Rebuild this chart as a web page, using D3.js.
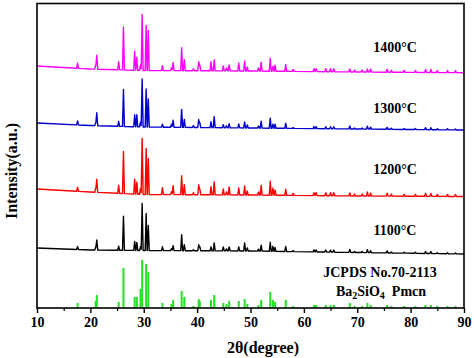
<!DOCTYPE html>
<html><head><meta charset="utf-8">
<script src="https://cdn.jsdelivr.net/npm/d3@7/dist/d3.min.js"></script>
<style>body{margin:0;background:#fff}svg text{font-family:"Liberation Serif","Times New Roman",serif;font-weight:bold}</style>
</head><body><svg id="c" width="474" height="358"></svg>
<script>
// Peak positions (2θ, degree)
const twoTheta = [17.6,21.0,21.2,25.3,26.2,28.3,28.7,29.4,29.7,30.45,30.85,33.5,35.2,35.5,37.1,37.6,39.3,40.3,40.5,42.6,43.2,44.9,45.5,46.0,47.8,48.9,49.4,51.5,52.0,53.7,54.2,54.6,56.6,58.0,61.9,62.3,64.1,65.0,65.6,68.6,69.5,70.9,71.9,72.5,75.6,76.4,78.8,80.9,82.8,83.8,85.0,86.9,88.4];
// JCPDS No.70-2113 reference stick intensities
const jcpds = [5,7,13,6,40,11,11,19,48,44,36,5,4,8,17,11,2,9,7,8,13,5,4,7,7,9,4,3,8,16,8,6,8,2,3,3,3,3,3,5,2,2,5,3,3,2,2,2,3,3,2,2,2];
// Peak heights of measured patterns (a.u.)
const h1100 = [3,3,10,4,34,9,8,4,47,37,25,4,2,5,16,6,1,6,4,4,8,4,2,4,4,8,3,2,6,9,5,4,5,1,2,2,2,2,2,3,1,1,3,2,2,1,1,1,2,2,1,1,1];
const h1200 = [4,4,13,8,42,15,12,6,56,46,36,7,3,9,19,10,2,10,6,8,13,6,3,8,7,9,4,3,10,14,7,5,6,2,3,3,3,3,3,3,2,2,4,3,3,2,2,2,3,3,2,2,2];
const h1300 = [4,3,13,5,37,12,12,5,48,38,28,3,3,7,18,8,2,8,5,6,11,3,2,4,4,6,3,2,7,10,4,4,5,1,2,2,2,2,2,3,1,1,3,2,2,1,1,1,2,2,1,1,1];
const h1400 = [5,4,14,8,43,19,13,6,56,45,40,5,3,8,23,11,2,9,6,9,11,5,3,6,8,10,4,3,9,13,5,6,7,2,3,3,3,3,3,3,2,2,3,3,3,2,2,2,3,3,2,2,2];
// Background (baseline incl. vertical offset) at anchor angles
const baseAngles = [10,20,30,50,70,90];
const base1100 = [60,58,57.5,57,55.5,54];
const base1200 = [119,116,113.5,113,112,111.5];
const base1300 = [185,182.5,181,180,179,178];
const base1400 = [242,239,237.5,237,236,235.3];
const seriesNames = ["1100°C","1200°C","1300°C","1400°C"];
const seriesColors = ["#000000","#ff0000","#0000cc","#ff00ff"];
const xTicks = [10,20,30,40,50,60,70,80,90];

const W=474,H=358, L=37, R=464, T=3.5, B=308;
const svg=d3.select("#c");
const x=d3.scaleLinear().domain([10,90]).range([L,R]);
const y=d3.scaleLinear().domain([0,304.5]).range([B,T]);

const clip=svg.append("clipPath").attr("id","cp").append("rect").attr("x",L).attr("y",T).attr("width",R-L).attr("height",B-T);

// JCPDS sticks
svg.append("g").attr("clip-path","url(#cp)").selectAll("line").data(twoTheta.map((p,i)=>({p,v:jcpds[i]})))
  .join("line").attr("x1",d=>x(d.p)).attr("x2",d=>x(d.p)).attr("y1",y(0)).attr("y2",d=>y(d.v))
  .attr("stroke","#22e322").attr("stroke-width",2);

// measured patterns
const w=0.18;
const heights=[h1100,h1200,h1300,h1400], bases=[base1100,base1200,base1300,base1400];
heights.forEach((hs,si)=>{
  const bg=d3.scaleLinear().domain(baseAngles).range(bases[si]);
  let xs=[...baseAngles];
  twoTheta.forEach(p=>{xs.push(p-w,p,p+w);});
  xs=Array.from(new Set(xs)).sort((a,b)=>a-b);
  const pts=xs.map(t=>{
    let v=bg(t);
    twoTheta.forEach((p,i)=>{const f=1-Math.abs(t-p)/w; if(f>0) v+=hs[i]*f;});
    return [t,v];
  });
  svg.append("path").attr("clip-path","url(#cp)").datum(pts)
    .attr("d",d3.line().x(d=>x(d[0])).y(d=>y(d[1])))
    .attr("fill","none").attr("stroke",seriesColors[si]).attr("stroke-width",1.4).attr("stroke-linejoin","round");
});

// frame
svg.append("rect").attr("x",L).attr("y",T).attr("width",R-L).attr("height",B-T).attr("fill","none").attr("stroke","#000").attr("stroke-width",1.6);

// x axis
const ax=svg.append("g").attr("transform",`translate(0,${B})`)
  .call(d3.axisBottom(x).tickValues(xTicks).tickSize(5).tickSizeOuter(0).tickPadding(4).tickFormat(d3.format("d")));
ax.select(".domain").remove();
ax.selectAll("line").attr("stroke-width",1.4);
ax.selectAll("text").attr("font-size",14).attr("fill","#000").style("font-family","Liberation Serif").style("font-weight","bold");
const axm=svg.append("g").attr("transform",`translate(0,${B})`)
  .call(d3.axisBottom(x).tickValues(d3.range(15,90,10)).tickSize(3).tickSizeOuter(0).tickFormat(""));
axm.select(".domain").remove();
axm.selectAll("line").attr("stroke-width",1.2);

// axis titles
svg.append("text").attr("x",263).attr("y",353).attr("text-anchor","middle").attr("font-size",16).text("2θ(degree)");
svg.append("text").attr("transform","translate(17,171) rotate(-90)").attr("text-anchor","middle").attr("font-size",16).text("Intensity(a.u.)");

// series labels
const labelY=[235,173.5,112.5,52];
seriesNames.forEach((n,i)=>{
  svg.append("text").attr("x",395).attr("y",labelY[i]).attr("text-anchor","middle").attr("font-size",14).text(n);
});
svg.append("text").attr("x",380).attr("y",277).attr("text-anchor","middle").attr("font-size",14).text("JCPDS No.70-2113");
const t2=svg.append("text").attr("x",381).attr("y",296).attr("text-anchor","middle").attr("font-size",14).attr("xml:space","preserve");
t2.append("tspan").text("Ba");
t2.append("tspan").attr("font-size",10).attr("dy",3).text("2");
t2.append("tspan").attr("dy",-3).text("SiO");
t2.append("tspan").attr("font-size",10).attr("dy",3).text("4");
t2.append("tspan").attr("dy",-3).text("  Pmcn");
</script></body></html>
